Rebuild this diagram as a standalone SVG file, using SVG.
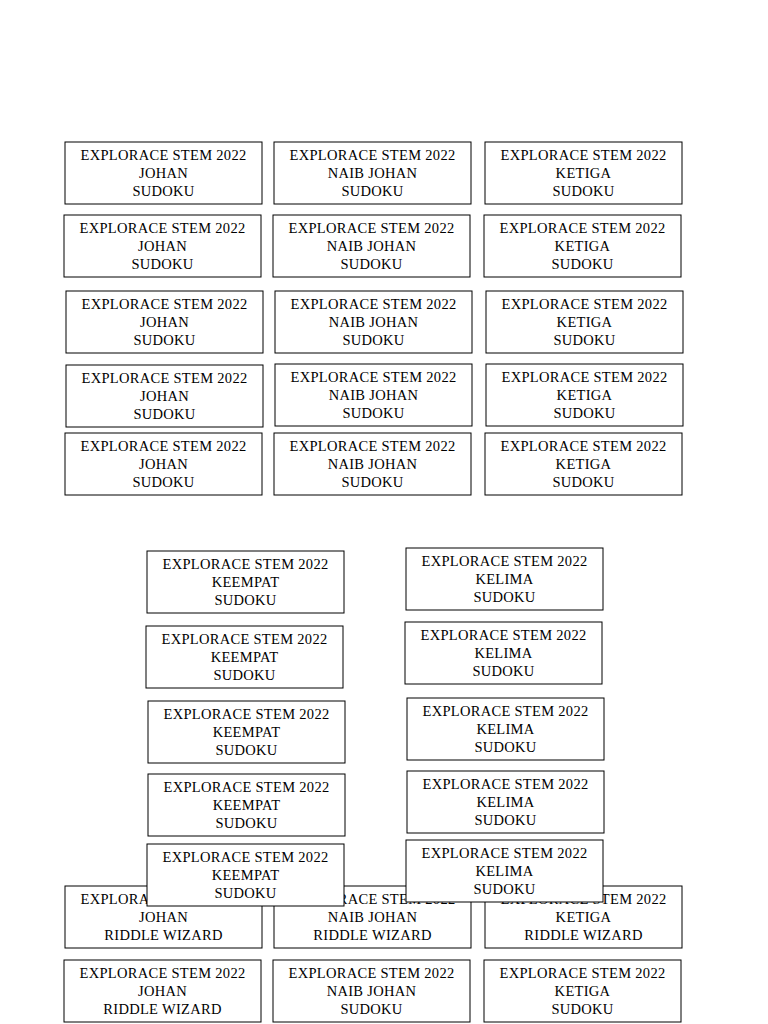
<svg xmlns="http://www.w3.org/2000/svg" width="768" height="1024" viewBox="0 0 768 1024">
<style>
rect{fill:#fff;stroke:#000;stroke-width:1}
text{font-family:"Liberation Serif","Times New Roman",serif;font-size:14.5px;text-anchor:middle;fill:#000;letter-spacing:0.3px}
</style>
<defs>
<g id="bJ"><rect x="0" y="0" width="197" height="62"/><text x="98.5" y="18">EXPLORACE STEM 2022</text><text x="98.5" y="36">JOHAN</text><text x="98.5" y="54">SUDOKU</text></g>
<g id="bN"><rect x="0" y="0" width="197" height="62"/><text x="98.5" y="18">EXPLORACE STEM 2022</text><text x="98.5" y="36">NAIB JOHAN</text><text x="98.5" y="54">SUDOKU</text></g>
<g id="bK"><rect x="0" y="0" width="197" height="62"/><text x="98.5" y="18">EXPLORACE STEM 2022</text><text x="98.5" y="36">KETIGA</text><text x="98.5" y="54">SUDOKU</text></g>
<g id="b4"><rect x="0" y="0" width="197" height="62"/><text x="98.5" y="18">EXPLORACE STEM 2022</text><text x="98.5" y="36">KEEMPAT</text><text x="98.5" y="54">SUDOKU</text></g>
<g id="b5"><rect x="0" y="0" width="197" height="62"/><text x="98.5" y="18">EXPLORACE STEM 2022</text><text x="98.5" y="36">KELIMA</text><text x="98.5" y="54">SUDOKU</text></g>
<g id="rJ"><rect x="0" y="0" width="197" height="62"/><text x="98.5" y="18">EXPLORACE STEM 2022</text><text x="98.5" y="36">JOHAN</text><text x="98.5" y="54">RIDDLE WIZARD</text></g>
<g id="rN"><rect x="0" y="0" width="197" height="62"/><text x="98.5" y="18">EXPLORACE STEM 2022</text><text x="98.5" y="36">NAIB JOHAN</text><text x="98.5" y="54">RIDDLE WIZARD</text></g>
<g id="rK"><rect x="0" y="0" width="197" height="62"/><text x="98.5" y="18">EXPLORACE STEM 2022</text><text x="98.5" y="36">KETIGA</text><text x="98.5" y="54">RIDDLE WIZARD</text></g>
</defs>
<rect x="0" y="0" width="768" height="1024" style="stroke:none"/>
<g id="top">
<use href="#bJ" x="65" y="142"/><use href="#bN" x="274" y="142"/><use href="#bK" x="485" y="142"/>
<use href="#bJ" x="64" y="215"/><use href="#bN" x="273" y="215"/><use href="#bK" x="484" y="215"/>
<use href="#bJ" x="66" y="291"/><use href="#bN" x="275" y="291"/><use href="#bK" x="486" y="291"/>
<use href="#bJ" x="66" y="365"/><use href="#bN" x="275" y="364"/><use href="#bK" x="486" y="364"/>
<use href="#bJ" x="65" y="433"/><use href="#bN" x="274" y="433"/><use href="#bK" x="485" y="433"/>
</g>
<g id="bottom">
<use href="#rJ" x="65" y="886"/><use href="#rN" x="274" y="886"/><use href="#rK" x="485" y="886"/>
<use href="#rJ" x="64" y="960"/><use href="#bN" x="273" y="960"/><use href="#bK" x="484" y="960"/>
</g>
<g id="middle">
<use href="#b4" x="147" y="551"/><use href="#b4" x="146" y="626"/><use href="#b4" x="148" y="701"/><use href="#b4" x="148" y="774"/><use href="#b4" x="147" y="844"/>
<use href="#b5" x="406" y="548"/><use href="#b5" x="405" y="622"/><use href="#b5" x="407" y="698"/><use href="#b5" x="407" y="771"/><use href="#b5" x="406" y="840"/>
</g>
</svg>
